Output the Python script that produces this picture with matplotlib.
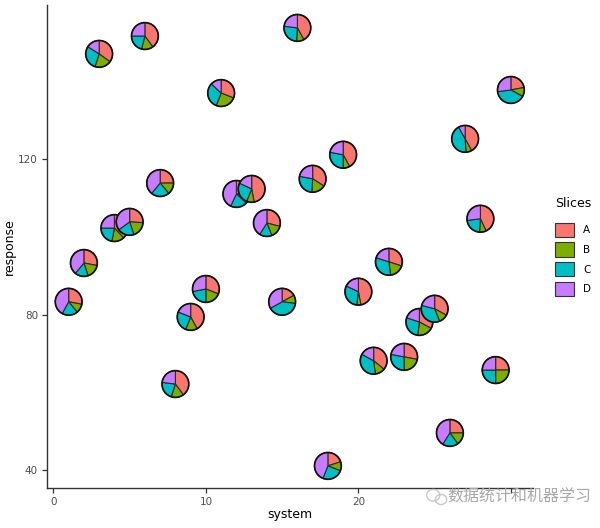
import matplotlib
matplotlib.use("Agg")
import matplotlib.pyplot as plt
from matplotlib.patches import Wedge, Circle, Patch, Ellipse
from matplotlib.transforms import ScaledTranslation

plt.rcParams['font.family'] = ['DejaVu Sans']

system = list(range(1, 31))
response = [83.3, 93.3, 147.2, 102.3, 103.9, 151.8, 113.9, 62.1, 79.4, 86.6,
            137.1, 111.1, 112.4, 103.6, 83.3, 153.9, 115.0, 41.0, 121.2, 85.9,
            68.1, 93.6, 69.1, 78.1, 81.5, 49.5, 125.3, 104.7, 65.7, 137.9]
A = [.28, .28, .35, .38, .26, .40, .25, .40, .42, .31, .31, .25, .47, .29, .17,
     .42, .34, .20, .42, .47, .36, .30, .28, .33, .33, .25, .42, .43, .25, .22]
B = [.11, .17, .20, .15, .19, .14, .14, .15, .14, .19, .25, .12, .09, .15, .10,
     .09, .17, .11, .08, .05, .12, .18, .22, .19, .11, .15, .07, .08, .25, .11]
C = [.19, .16, .29, .22, .20, .21, .22, .22, .25, .22, .31, .20, .26, .15, .40,
     .26, .27, .25, .28, .30, .35, .32, .28, .28, .35, .19, .43, .22, .25, .40]
D = [.42, .39, .16, .25, .35, .25, .39, .23, .19, .28, .13, .43, .18, .41, .33,
     .23, .22, .44, .22, .18, .17, .20, .22, .20, .21, .41, .08, .27, .25, .27]
slices = ['A', 'B', 'C', 'D']
colors = ['#F8766D', '#7CAE00', '#00BFC4', '#C77CFF']
x_ticks = [0, 10, 20, 30]
x_ticklabels = ['0', '10', '20', '']   # the "30" label is hidden under the watermark
y_ticks = [40, 80, 120]

fig = plt.figure(figsize=(6.0, 5.28), dpi=100)
ax = fig.add_axes([47/600, 1-488/528, (533-47)/600, (488-5)/528])
ax.set_xlim(-0.42, 31.45)
ax.set_ylim(35.3, 159.8)
ax.set_xticks(x_ticks)
ax.set_xticklabels(x_ticklabels)
ax.set_yticks(y_ticks)
for s in ['top', 'right']:
    ax.spines[s].set_visible(False)
for s in ['left', 'bottom']:
    ax.spines[s].set_color('#333333')
    ax.spines[s].set_linewidth(1.0)
ax.tick_params(axis='both', length=3.5, width=0.9, color='#333333',
               labelcolor='#4d4d4d', labelsize=7.5, pad=3)
ax.set_xlabel('system', fontsize=9, color='black', labelpad=1)
ax.set_ylabel('response', fontsize=9, color='black', labelpad=2)

r_in = 0.134
z = 3
for i, (x, y) in enumerate(zip(system, response)):
    vals = [A[i], B[i], C[i], D[i]]
    tot = sum(vals)
    tr = fig.dpi_scale_trans + ScaledTranslation(x, y, ax.transData)
    c0 = 0.0
    for v, col in zip(vals, colors):
        c1 = c0 + 360.0 * v / tot
        w = Wedge((0, 0), r_in, 90 - c1, 90 - c0, facecolor=col,
                  edgecolor='#2a2a2a', linewidth=0.8, transform=tr, zorder=z)
        ax.add_artist(w)
        c0 = c1
    circ = Circle((0, 0), r_in, facecolor='none', edgecolor='#111111',
                  linewidth=1.2, transform=tr, zorder=z + 0.5)
    ax.add_artist(circ)
    z += 1

handles = [Patch(facecolor=c, edgecolor='#333333', linewidth=0.8) for c in colors]
leg = fig.legend(handles, slices, title='Slices', loc='center left',
                 bbox_to_anchor=(0.918, 0.533), frameon=False, fontsize=7.5,
                 title_fontsize=9, handlelength=1.8, handleheight=1.75,
                 handletextpad=0.9, labelspacing=0.5, borderaxespad=0)
leg._legend_box.align = 'left'
leg._legend_box.sep = 9

# watermark (icon + text)
fig.patches.append(Ellipse((0.722, 0.062), 0.022, 0.022, transform=fig.transFigure,
                           facecolor='none', edgecolor='#c8c8c8', linewidth=1.0))
fig.patches.append(Ellipse((0.735, 0.054), 0.019, 0.019, transform=fig.transFigure,
                           facecolor='none', edgecolor='#c8c8c8', linewidth=1.0))
fig.text(0.745, 0.059, '数据统计和机器学习', fontsize=11.5, color='#a8a8a8',
         family=['Noto Sans CJK SC', 'DejaVu Sans'], va='center', ha='left')

fig.savefig('out.png', dpi=100)
